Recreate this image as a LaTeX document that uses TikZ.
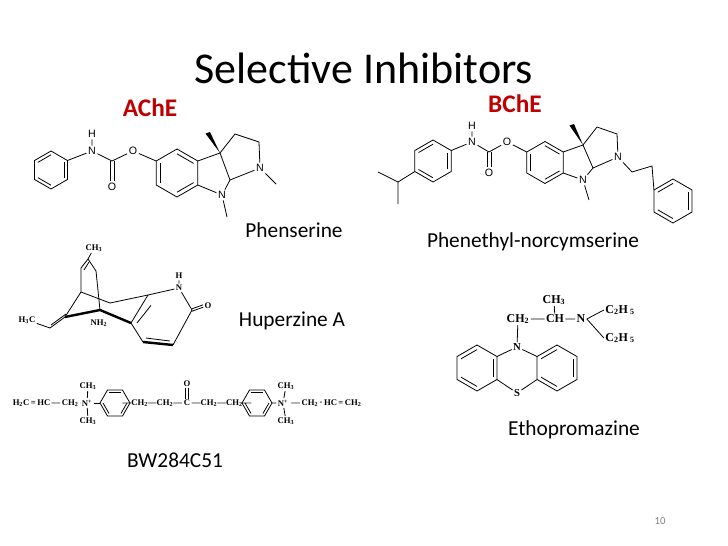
\documentclass[tikz,border=0pt]{standalone}
\usepackage{fontspec}
\setmainfont{Carlito}
\newfontfamily\arial{Liberation Sans}
\newfontfamily\tms{Liberation Serif}
\usetikzlibrary{calc}
\definecolor{achered}{HTML}{C00000}
\newcommand\hexat[5]{%
 \coordinate (#1c) at (#2,#3);
 \foreach \i in {1,...,6}{\path (#2,#3) ++({#4*cos(#5+60*\i)},{#4*sin(#5+60*\i)}) coordinate (#1\i);}
 \draw (#11)--(#12)--(#13)--(#14)--(#15)--(#16)--cycle;}
\newcommand\dbl[3]{\draw ($(#1#2)!0.2!(#1c)$)--($(#1#3)!0.2!(#1c)$);}
\begin{document}
\begin{tikzpicture}[x=0.75pt,y=-0.75pt,line width=0.6pt,
  atom/.style={font=\arial\fontsize{8}{8}\selectfont,inner sep=1pt},
  satom/.style={font=\tms\bfseries\fontsize{6.5}{6.5}\selectfont,inner sep=0.8pt},
  lbl/.style={font=\fontsize{16}{18}\selectfont,inner sep=0pt},
  enz/.style={font=\bfseries\fontsize{19}{21}\selectfont,text=achered,inner sep=0pt},
  thick bond/.style={line width=1.8pt}]
\useasboundingbox (0,0) rectangle (728,546);
\fill[white] (0,0) rectangle (728,546);
\node[font=\fontsize{33}{36}\selectfont] (title) at (364,68) {Selective Inhibitors};
\node[enz] (ache) at (150,108) {AChE};
\node[enz] (bche) at (515,104) {BChE};
\node[font=\fontsize{8}{8}\selectfont,text=gray] (pg) at (660,521) {10};

% ---------- Phenserine
\hexat{pa}{51}{170}{19}{30}
\dbl{pa}{5}{6}\dbl{pa}{1}{2}\dbl{pa}{3}{4}
\node[atom] (pN) at (92,151) {N};
\node[atom] (pH) at (92,134) {H};
\coordinate (pC) at (112,161);
\node[atom] (pO2) at (112,187) {O};
\node[atom] (pO1) at (133,151) {O};
\draw (pa5)--(pN) (pN)--(pH) (pN)--(pC)--(pO1);
\draw ($(pC)+(-2,0)$)--($(pO2.north)+(-2,0)$) ($(pC)+(2,0)$)--($(pO2.north)+(2,0)$);
\hexat{pb}{177}{173}{24}{30}
\dbl{pb}{4}{5}\dbl{pb}{6}{1}\dbl{pb}{2}{3}
\draw (pO1)--(pb3);
\coordinate (pq) at (220,153);
\coordinate (p8a) at (230,180);
\node[atom] (pN8) at (222,195) {N};
\node[atom] (pN1) at (260,168) {N};
\coordinate (pm) at (208,133);
\coordinate (pr1) at (235,134);
\coordinate (pr2) at (259,142);
\coordinate (pme1) at (276,184);
\coordinate (pme8) at (227,217);
\draw (pb5)--(pq)--(p8a)--(pN8)--(pb6);
\draw (pq)--(pr1)--(pr2)--(pN1)--(p8a);
\draw (pN1)--(pme1) (pN8)--(pme8);
\fill (pq) -- ($(pm)+(-2.5,0.5)$) -- ($(pm)+(2,-1)$) -- cycle;
\node[lbl] (phens) at (294,230) {Phenserine};

% ---------- Phenethyl-norcymserine
\hexat{na}{433}{161}{21}{30}
\dbl{na}{3}{4}\dbl{na}{5}{6}\dbl{na}{1}{2}
\coordinate (niso) at (398,182);
\coordinate (nis1) at (378,172);
\coordinate (nis2) at (398,204);
\draw (na2)--(niso) (niso)--(nis1) (niso)--(nis2);
\node[atom] (nN) at (472,142) {N};
\node[atom] (nH) at (472,126) {H};
\coordinate (nC) at (489,152);
\node[atom] (nO2) at (489,173) {O};
\node[atom] (nO1) at (507,142) {O};
\draw (na5)--(nN) (nN)--(nH) (nN)--(nC)--(nO1);
\draw ($(nC)+(-2,0)$)--($(nO2.north)+(-2,0)$) ($(nC)+(2,0)$)--($(nO2.north)+(2,0)$);
\hexat{nb}{545}{162.5}{21}{30}
\dbl{nb}{4}{5}\dbl{nb}{6}{1}\dbl{nb}{2}{3}
\draw (nO1)--(nb3);
\coordinate (nq) at (583,145);
\coordinate (n8a) at (593,168);
\node[atom] (nN8) at (583,180) {N};
\node[atom] (nN1) at (618,157) {N};
\coordinate (nm) at (572,125);
\coordinate (nr1) at (597,127);
\coordinate (nr2) at (617,134);
\coordinate (nme8) at (589,200);
\draw (nb5)--(nq)--(n8a)--(nN8)--(nb6);
\draw (nq)--(nr1)--(nr2)--(nN1)--(n8a);
\draw (nN8)--(nme8);
\fill (nq) -- ($(nm)+(-2.5,0.5)$) -- ($(nm)+(2,-1)$) -- cycle;
\hexat{nc}{673}{201}{22}{30}
\dbl{nc}{5}{6}\dbl{nc}{1}{2}\dbl{nc}{3}{4}
\coordinate (nch1) at (632,172);
\coordinate (nch2) at (652,166);
\draw (nN1)--(nch1)--(nch2)--(nc3);
\node[lbl] (phnc) at (533,242) {Phenethyl-norcymserine};

% ---------- Huperzine A
\node[satom] (hCH3) at (94,248) {CH\textsubscript{3}};
\coordinate (hA) at (88,259);
\coordinate (hB) at (81,268);
\coordinate (hC) at (96,271);
\coordinate (hD) at (81,292);
\coordinate (hE) at (65,317);
\coordinate (hF) at (110,303);
\coordinate (hG) at (148,295);
\node[satom] (hN) at (179,288) {N};
\node[satom] (hH) at (179,276) {H};
\coordinate (hCO) at (192,310);
\node[satom] (hO) at (208,306) {O};
\coordinate (hK) at (173,345);
\coordinate (hL) at (143,342);
\coordinate (hM) at (131,323);
\coordinate (hP) at (100,310);
\node[satom] (hNH2) at (99,323) {NH\textsubscript{2}};
\node[satom] (hH3C) at (27,320) {H\textsubscript{3}C};
\coordinate (hE2) at (50,328);
\draw (hA)--(hCH3) (hA)--(hB) (hA)--(hC);
\draw ($(hA)+(1,3)$)--($(hB)+(3,2)$);
\draw (hB)--(hD) (hC)--(hP) (hD)--(hF)--(hG);
\draw (hD)--(hE) (hG)--(hN)--(hH) (hN)--(hCO) (hCO)--(hK);
\draw ($(hCO)+(0,-1.2)$)--($(hO.west)+(0,-1.2)$) ($(hCO)+(0,1.2)$)--($(hO.west)+(0,1.2)$);
\draw (hG)--(hM) ($(hG)!0.2!(hL)+(4,1)$)--($(hM)+(6,0)$);
\draw[thick bond] (hE)--(hP)--(hM) (hK)--(hL);
\draw (hL)--(hM);
\draw ($(hK)+(-3,-4)$)--($(hL)+(3,-4)$);
\draw (hH3C)--(hE2)--(hE) ($(hE2)+(1,-3)$)--($(hE)+(1,-3)$);
\node[lbl] (hup) at (292,321) {Huperzine A};

% ---------- BW284C51
\node[satom,anchor=east] (b1) at (80,403) {H\textsubscript{2}C\,=\,HC\,—\,CH\textsubscript{2}};
\node[satom] (bN1) at (87,403) {N\textsuperscript{+}};
\node[satom] (bm1) at (88,386) {CH\textsubscript{3}};
\node[satom] (bm2) at (88,421) {CH\textsubscript{3}};
\draw (b1)--(bN1) (bN1)--(bm1) (bN1)--(bm2);
\hexat{br}{115}{403}{15}{0}
\dbl{br}{4}{5}\dbl{br}{6}{1}\dbl{br}{2}{3}
\draw (bN1)--(br3);
\node[satom] (bC) at (187,403) {C};
\node[satom,anchor=east,inner sep=0pt] (b2) at (bC.west) {—CH\textsubscript{2}—CH\textsubscript{2}—};
\node[satom] (bO) at (187,384) {O};
\draw ($(bC.north)+(-1.2,0)$)--($(bO.south)+(-1.2,0)$) ($(bC.north)+(1.2,0)$)--($(bO.south)+(1.2,0)$);
\node[satom,anchor=west,inner sep=0pt] (b3) at (bC.east) {—CH\textsubscript{2}—CH\textsubscript{2}—};
\hexat{bs}{257}{403}{15}{0}
\dbl{bs}{4}{5}\dbl{bs}{6}{1}\dbl{bs}{2}{3}
\node[satom] (bN2) at (283,403) {N\textsuperscript{+}};
\node[satom] (bm3) at (286,386) {CH\textsubscript{3}};
\node[satom] (bm4) at (286,421) {CH\textsubscript{3}};
\draw (bs6)--(bN2) (bN2)--(bm3) (bN2)--(bm4);
\node[satom,anchor=west] (b4) at (290,403) {—\,CH\textsubscript{2}\,·\,HC\,=\,CH\textsubscript{2}};
\node[lbl] (bw) at (175,460) {BW284C51};

% ---------- Ethopromazine
\hexat{el}{477}{368}{23}{30}
\dbl{el}{1}{2}\dbl{el}{3}{4}\dbl{el}{5}{6}
\hexat{er}{557}{368}{23}{30}
\dbl{er}{1}{2}\dbl{er}{3}{4}\dbl{er}{5}{6}
\node[satom,font=\tms\bfseries\fontsize{8}{8}\selectfont] (eN) at (517,347) {N};
\node[satom,font=\tms\bfseries\fontsize{8}{8}\selectfont] (eS) at (517,393) {S};
\draw (el5)--(eN)--(er3) (el6)--(eS)--(er2);
\node[satom,font=\tms\bfseries\fontsize{9}{9}\selectfont] (eCH2) at (518,319) {CH\textsubscript{2}};
\node[satom,font=\tms\bfseries\fontsize{9}{9}\selectfont] (eCH) at (555,319) {CH};
\node[satom,font=\tms\bfseries\fontsize{9}{9}\selectfont] (eCH3) at (554,300) {CH\textsubscript{3}};
\node[satom,font=\tms\bfseries\fontsize{9}{9}\selectfont] (eN2) at (581,319) {N};
\node[satom,font=\tms\bfseries\fontsize{9}{9}\selectfont] (eEt1) at (620,310) {C\textsubscript{2}H\,\textsubscript{5}};
\node[satom,font=\tms\bfseries\fontsize{9}{9}\selectfont] (eEt2) at (620,338) {C\textsubscript{2}H\,\textsubscript{5}};
\draw (eN)--(eCH2) (eCH2)--(eCH) (eCH)--(eCH3) (eCH)--(eN2);
\draw (eN2.east)--(eEt1.west) (eN2.east)--(eEt2.west);
\node[lbl] (etho) at (574,430) {Ethopromazine};
\end{tikzpicture}
\end{document}
